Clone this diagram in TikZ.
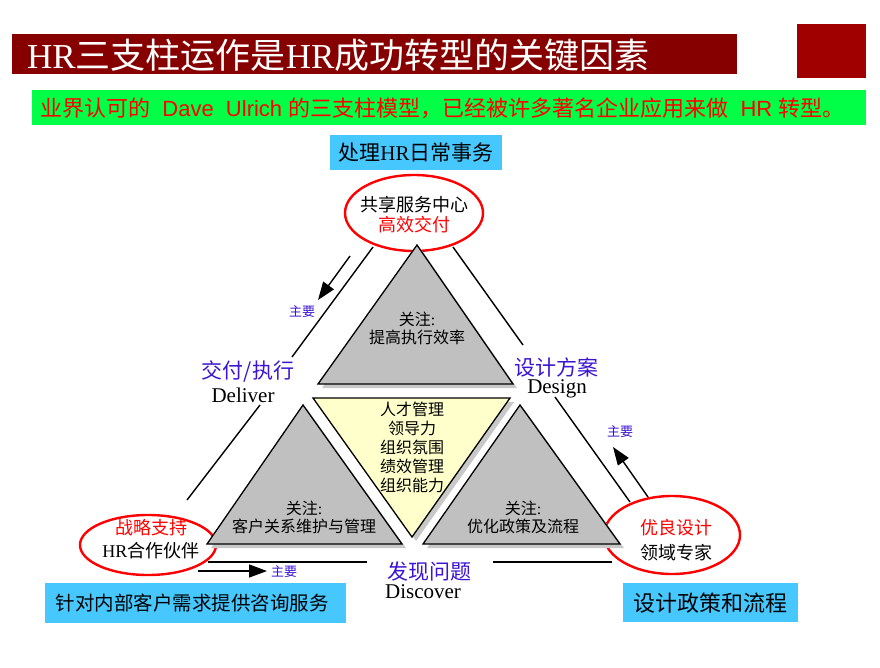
\documentclass[tikz,border=0pt]{standalone}
\usepackage{fontspec}
\setmainfont{Liberation Serif}
\newfontfamily\cjk{Noto Sans CJK SC}
\newfontfamily\lsans{Liberation Sans}
\usetikzlibrary{shapes.geometric,arrows.meta}
\definecolor{titlered}{RGB}{135,0,0}
\definecolor{boxred}{RGB}{160,0,0}
\definecolor{bannergreen}{RGB}{0,255,70}
\definecolor{cyanbox}{RGB}{70,200,255}
\definecolor{labelblue}{RGB}{60,20,210}
\definecolor{trigray}{RGB}{192,192,192}
\definecolor{shadowgray}{RGB}{200,200,200}
\definecolor{triyellow}{RGB}{255,255,204}
\newcommand{\fs}[2][]{\fontsize{#2}{#2}\selectfont}
\newcommand{\fsb}[2]{\fontsize{#1}{#2}\selectfont}
\begin{document}
\begin{tikzpicture}[x=1pt,y=-1pt,
  outerline/.style={draw=black,line width=1.4pt},
  roleellipse/.style={ellipse,draw=red,line width=2.4pt,fill=white,inner sep=0pt},
  cyanrect/.style={fill=cyanbox,inner sep=0pt,anchor=north west},
  tri/.style={draw=black,line width=1.3pt,fill=trigray,line join=miter},
  trishadow/.style={fill=shadowgray},
  ytri/.style={draw=black,line width=1.3pt,fill=triyellow},
  bluelabel/.style={text=labelblue,font=\cjk\fs{21}},
  enlabel/.style={font=\fs{21}},
  mainlabel/.style={text=labelblue,font=\cjk\fs{13}},
  mainarrow/.style={draw=black,line width=1.4pt,-{Triangle[length=18pt,width=13pt]}},
  tritext/.style={font=\fsb{16}{18},align=center,text=black,inner sep=0pt},
  elltext/.style={font=\fsb{18}{22},align=center,inner sep=0pt}
]
\useasboundingbox (0,0) rectangle (880,667);
\fill[white] (0,0) rectangle (880,667);

% title
\node[fill=titlered,minimum width=725pt,minimum height=40pt,inner sep=0pt,anchor=north west] (titlebar) at (12,34) {};
\node[anchor=west,text=white,inner sep=0pt,font=\fs{35}] (titletext) at (27,55) {HR{\cjk 三支柱运作是}HR{\cjk 成功转型的关键因素}};
\node[fill=boxred,minimum width=69pt,minimum height=54pt,inner sep=0pt,anchor=north west] (redsq) at (797,24) {};

% banner
\node[fill=bannergreen,minimum width=834pt,minimum height=35pt,inner sep=0pt,anchor=north west] (banner) at (32,90) {};
\node[anchor=west,text=red,inner sep=0pt,font=\fs{22}] (bannertext) at (40,108) {{\cjk 业界认可的}\lsans\ \ Dave\ \ Ulrich\ {\cjk 的三支柱模型，已经被许多著名企业应用来做}\ \ HR\ {\cjk 转型。}};

% top cyan box
\node[cyanrect,minimum width=172pt,minimum height=35pt] (topbox) at (330,135) {};
\node[inner sep=0pt,font=\fs{21}] (toptext) at (416,153) {{\cjk 处理}HR{\cjk 日常事务}};

% outer triangle lines
\coordinate (ol1) at (373,247); \coordinate (ol2) at (292,357);
\coordinate (ol3) at (260,405); \coordinate (ol4) at (187,500);
\coordinate (or1) at (453,247); \coordinate (or2) at (523,345);
\coordinate (or3) at (555,397); \coordinate (or4) at (630,502);
\coordinate (ob1) at (208,562); \coordinate (ob2) at (367,562);
\coordinate (ob3) at (493,562); \coordinate (ob4) at (612,562);
\draw[outerline] (ol1) -- (ol2);
\draw[outerline] (ol3) -- (ol4);
\draw[outerline] (or1) -- (or2);
\draw[outerline] (or3) -- (or4);
\draw[outerline] (ob1) -- (ob2);
\draw[outerline] (ob3) -- (ob4);

% ellipses
\node[roleellipse,minimum width=138pt,minimum height=76pt] (topell) at (414,213) {};
\node[roleellipse,minimum width=136pt,minimum height=60pt] (leftell) at (148,545) {};
\node[roleellipse,minimum width=136pt,minimum height=78pt] (rightell) at (672,535) {};

% shadows
\fill[trishadow] (421,249) -- (322,388) -- (517,388) -- cycle;
\fill[trishadow] (317,402) -- (514,402) -- (416,541) -- cycle;
\fill[trishadow] (307,409) -- (211,548) -- (406,548) -- cycle;
\fill[trishadow] (524,409) -- (427,548) -- (624,548) -- cycle;

% triangles
\draw[tri] (417,245) -- (318,384) -- (513,384) -- cycle;
\draw[ytri] (313,398) -- (510,398) -- (412,537) -- cycle;
\draw[tri] (303,405) -- (207,544) -- (402,544) -- cycle;
\draw[tri] (520,405) -- (423,544) -- (620,544) -- cycle;

% triangle texts
\node[tritext] (toptri) at (417,328) {{\cjk 关注}:\\{\cjk 提高执行效率}};
\node[tritext] (lefttri) at (304,517) {{\cjk 关注}:\\{\cjk 客户关系维护与管理}};
\node[tritext] (righttri) at (523,517) {{\cjk 关注}:\\{\cjk 优化政策及流程}};
\node[tritext,font=\cjk\fsb{16}{19}] (yeltext) at (412,447) {人才管理\\领导力\\组织氛围\\绩效管理\\组织能力};

% ellipse texts
\node[elltext,font=\fsb{18}{20}] (toptx) at (414,215) {{\cjk 共享服务中心}\\{\cjk\color{red}高效交付}};
\node[elltext,font=\fsb{18}{23}] (lefttx) at (151,539) {{\cjk\color{red}战略支持}\\HR{\cjk 合作伙伴}};
\node[elltext,font=\fsb{18}{25}] (righttx) at (676,540) {{\cjk\color{red}优良设计}\\{\cjk 领域专家}};

% side labels
\node[bluelabel,inner sep=0pt] (delcn) at (248,371) {交付/执行};
\node[enlabel,inner sep=0pt] (delen) at (243,395) {Deliver};
\node[bluelabel,inner sep=0pt] (descn) at (556,367) {设计方案};
\node[enlabel,inner sep=0pt] (desen) at (557,389) {Design};
\node[bluelabel,inner sep=0pt] (discn) at (429,571) {发现问题};
\node[enlabel,inner sep=0pt] (disen) at (423,592) {Discover};

% arrows
\coordinate (la1) at (350,256); \coordinate (la2) at (318,300);
\coordinate (ba1) at (198,571); \coordinate (ba2) at (267,571);
\coordinate (ra1) at (648,497); \coordinate (ra2) at (613,447);
\draw[mainarrow] (la1) -- (la2);
\draw[mainarrow] (ba1) -- (ba2);
\draw[mainarrow] (ra1) -- (ra2);
\node[mainlabel,inner sep=0pt] (lmain) at (302,312) {主要};
\node[mainlabel,inner sep=0pt] (bmain) at (284,572) {主要};
\node[mainlabel,inner sep=0pt] (rmain) at (620,432) {主要};

% bottom boxes
\node[cyanrect,minimum width=301pt,minimum height=40pt] (lbox) at (45,583) {};
\node[inner sep=0pt,font=\cjk\fs{19.5}] (lboxtext) at (192,603) {针对内部客户需求提供咨询服务};
\node[cyanrect,minimum width=175pt,minimum height=39pt] (rbox) at (623,583) {};
\node[inner sep=0pt,font=\cjk\fs{22}] (rboxtext) at (710,603) {设计政策和流程};
\end{tikzpicture}
\end{document}
